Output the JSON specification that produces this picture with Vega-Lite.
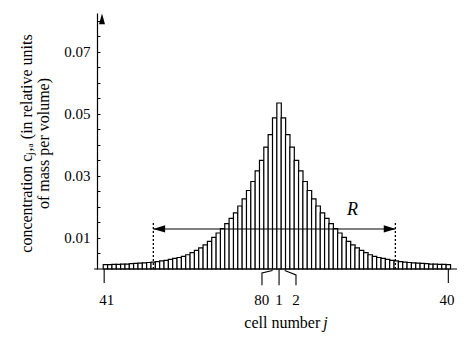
{
  "$schema": "https://vega.github.io/schema/vega-lite/v6.json",
  "width": 365,
  "height": 256,
  "autosize": {"type": "none"},
  "padding": {"left": 97, "top": 13, "right": 12, "bottom": 86},
  "background": "white",
  "config": {"view": {"stroke": null}, "font": "Liberation Serif"},
  "data": {"values": [{"one": 1}]},
  "resolve": {"axis": {"x": "independent", "y": "independent"}},
  "datasets": {
    "cells": [
      {"cell": 41, "order": 0, "c": 0.0014}, {"cell": 42, "order": 1, "c": 0.0014}, {"cell": 43, "order": 2, "c": 0.0015}, {"cell": 44, "order": 3, "c": 0.0015},
      {"cell": 45, "order": 4, "c": 0.0016}, {"cell": 46, "order": 5, "c": 0.0016}, {"cell": 47, "order": 6, "c": 0.0017}, {"cell": 48, "order": 7, "c": 0.0018},
      {"cell": 49, "order": 8, "c": 0.0019}, {"cell": 50, "order": 9, "c": 0.0020}, {"cell": 51, "order": 10, "c": 0.0021}, {"cell": 52, "order": 11, "c": 0.0022},
      {"cell": 53, "order": 12, "c": 0.0024}, {"cell": 54, "order": 13, "c": 0.0026}, {"cell": 55, "order": 14, "c": 0.0028}, {"cell": 56, "order": 15, "c": 0.0031},
      {"cell": 57, "order": 16, "c": 0.0034}, {"cell": 58, "order": 17, "c": 0.0037}, {"cell": 59, "order": 18, "c": 0.0041}, {"cell": 60, "order": 19, "c": 0.0046},
      {"cell": 61, "order": 20, "c": 0.0053}, {"cell": 62, "order": 21, "c": 0.0060}, {"cell": 63, "order": 22, "c": 0.0068}, {"cell": 64, "order": 23, "c": 0.0078},
      {"cell": 65, "order": 24, "c": 0.0089}, {"cell": 66, "order": 25, "c": 0.0102}, {"cell": 67, "order": 26, "c": 0.0116}, {"cell": 68, "order": 27, "c": 0.0130},
      {"cell": 69, "order": 28, "c": 0.0146}, {"cell": 70, "order": 29, "c": 0.0163}, {"cell": 71, "order": 30, "c": 0.0181}, {"cell": 72, "order": 31, "c": 0.0203},
      {"cell": 73, "order": 32, "c": 0.0226}, {"cell": 74, "order": 33, "c": 0.0253}, {"cell": 75, "order": 34, "c": 0.0282}, {"cell": 76, "order": 35, "c": 0.0316},
      {"cell": 77, "order": 36, "c": 0.0350}, {"cell": 78, "order": 37, "c": 0.0393}, {"cell": 79, "order": 38, "c": 0.0433}, {"cell": 80, "order": 39, "c": 0.0487},
      {"cell": 1, "order": 40, "c": 0.0535}, {"cell": 2, "order": 41, "c": 0.0487}, {"cell": 3, "order": 42, "c": 0.0433}, {"cell": 4, "order": 43, "c": 0.0393},
      {"cell": 5, "order": 44, "c": 0.0350}, {"cell": 6, "order": 45, "c": 0.0316}, {"cell": 7, "order": 46, "c": 0.0282}, {"cell": 8, "order": 47, "c": 0.0253},
      {"cell": 9, "order": 48, "c": 0.0226}, {"cell": 10, "order": 49, "c": 0.0203}, {"cell": 11, "order": 50, "c": 0.0181}, {"cell": 12, "order": 51, "c": 0.0163},
      {"cell": 13, "order": 52, "c": 0.0146}, {"cell": 14, "order": 53, "c": 0.0130}, {"cell": 15, "order": 54, "c": 0.0116}, {"cell": 16, "order": 55, "c": 0.0102},
      {"cell": 17, "order": 56, "c": 0.0089}, {"cell": 18, "order": 57, "c": 0.0078}, {"cell": 19, "order": 58, "c": 0.0068}, {"cell": 20, "order": 59, "c": 0.0060},
      {"cell": 21, "order": 60, "c": 0.0053}, {"cell": 22, "order": 61, "c": 0.0046}, {"cell": 23, "order": 62, "c": 0.0041}, {"cell": 24, "order": 63, "c": 0.0037},
      {"cell": 25, "order": 64, "c": 0.0034}, {"cell": 26, "order": 65, "c": 0.0031}, {"cell": 27, "order": 66, "c": 0.0028}, {"cell": 28, "order": 67, "c": 0.0026},
      {"cell": 29, "order": 68, "c": 0.0024}, {"cell": 30, "order": 69, "c": 0.0022}, {"cell": 31, "order": 70, "c": 0.0021}, {"cell": 32, "order": 71, "c": 0.0020},
      {"cell": 33, "order": 72, "c": 0.0019}, {"cell": 34, "order": 73, "c": 0.0018}, {"cell": 35, "order": 74, "c": 0.0017}, {"cell": 36, "order": 75, "c": 0.0016},
      {"cell": 37, "order": 76, "c": 0.0016}, {"cell": 38, "order": 77, "c": 0.0015}, {"cell": 39, "order": 78, "c": 0.0015}, {"cell": 40, "order": 79, "c": 0.0014}
    ],
    "leaders": [
      {"g": "t41", "k": 0, "p": -0.3, "v": 0}, {"g": "t41", "k": 1, "p": -0.3, "v": -0.0045},
      {"g": "t40", "k": 0, "p": 79, "v": 0}, {"g": "t40", "k": 1, "p": 79, "v": -0.0045},
      {"g": "t1", "k": 0, "p": 40, "v": 0}, {"g": "t1", "k": 1, "p": 40, "v": -0.0052},
      {"g": "t80", "k": 0, "p": 38.5, "v": -0.0005}, {"g": "t80", "k": 1, "p": 36.06, "v": -0.0013}, {"g": "t80", "k": 2, "p": 36.06, "v": -0.0052},
      {"g": "t2", "k": 0, "p": 41.3, "v": -0.0005}, {"g": "t2", "k": 1, "p": 43.9, "v": -0.0019}, {"g": "t2", "k": 2, "p": 43.9, "v": -0.0052}
    ],
    "ticklabels": [
      {"label": "41", "p": 0.3}, {"label": "80", "p": 36.0}, {"label": "1", "p": 40}, {"label": "2", "p": 43.9}, {"label": "40", "p": 78.7}
    ],
    "rangeEnds": [
      {"side": "left", "p": 11.03}, {"side": "right", "p": 66.8}
    ]
  },
  "layer": [
    {
      "data": {"name": "cells"},
      "mark": {"type": "bar", "fill": "white", "stroke": "black", "strokeWidth": 1.2, "size": 4.46},
      "encoding": {
        "x": {"field": "order", "type": "quantitative", "scale": {"domain": [-0.8, 81], "nice": false, "zero": false}, "axis": null},
        "y": {
          "field": "c", "type": "quantitative",
          "scale": {"domain": [0, 0.0825], "nice": false},
          "axis": {
            "title": ["concentration cⱼ,ₐ (in relative units", "of mass per volume)"],
            "titleFont": "Liberation Serif", "titleFontSize": 16, "titleFontWeight": "normal", "titleColor": "black",
            "titleLineHeight": 17, "titleX": -71, "titleY": 130, "titleAngle": -90, "titleBaseline": "middle", "titleAlign": "center",
            "values": [0.005, 0.01, 0.015, 0.02, 0.025, 0.03, 0.035, 0.04, 0.045, 0.05, 0.055, 0.06, 0.065, 0.07, 0.075, 0.08],
            "labelExpr": "(abs(datum.value*100 - round(datum.value*100)) < 0.01 && round(datum.value*100) % 2 == 1) ? format(datum.value, '.2f') : ''",
            "labelFont": "Liberation Serif", "labelFontSize": 15, "labelColor": "black", "labelPadding": 10,
            "tickSize": -3, "tickColor": "black", "domainColor": "black", "domainWidth": 1.2, "grid": false
          }
        }
      }
    },
    {
      "mark": {"type": "rule", "stroke": "black", "strokeWidth": 1.2},
      "encoding": {"x": {"datum": -2.6, "type": "quantitative", "axis": null}, "x2": {"datum": 81}, "y": {"datum": 0, "type": "quantitative", "axis": null}}
    },
    {
      "mark": {"type": "point", "shape": "M0,-1.8L1,1.8L-1,1.8Z", "filled": true, "fill": "black", "size": 36, "opacity": 1},
      "encoding": {"x": {"datum": -0.8, "type": "quantitative", "axis": null}, "y": {"datum": 0.0806, "type": "quantitative", "axis": null}}
    },
    {
      "data": {"name": "leaders"},
      "mark": {"type": "line", "stroke": "black", "strokeWidth": 1.1},
      "encoding": {
        "x": {"field": "p", "type": "quantitative", "axis": null},
        "y": {"field": "v", "type": "quantitative", "axis": null},
        "detail": {"field": "g", "type": "nominal"},
        "order": {"field": "k", "type": "quantitative"}
      }
    },
    {
      "data": {"name": "rangeEnds"},
      "mark": {"type": "rule", "stroke": "black", "strokeWidth": 1.3, "strokeDash": [2, 2]},
      "encoding": {
        "x": {"field": "p", "type": "quantitative", "axis": null},
        "y": {"datum": 0, "type": "quantitative", "axis": null},
        "y2": {"datum": 0.0152}
      }
    },
    {
      "mark": {"type": "rule", "stroke": "black", "strokeWidth": 1.1},
      "encoding": {"x": {"datum": 11.03, "type": "quantitative", "axis": null}, "x2": {"datum": 66.8}, "y": {"datum": 0.0129, "type": "quantitative", "axis": null}}
    },
    {
      "mark": {"type": "point", "shape": "M-2,0L2,-1.2L2,1.2Z", "filled": true, "fill": "black", "size": 36, "opacity": 1},
      "encoding": {"x": {"datum": 12.37, "type": "quantitative", "axis": null}, "y": {"datum": 0.0129, "type": "quantitative", "axis": null}}
    },
    {
      "mark": {"type": "point", "shape": "M2,0L-2,-1.2L-2,1.2Z", "filled": true, "fill": "black", "size": 36, "opacity": 1},
      "encoding": {"x": {"datum": 65.5, "type": "quantitative", "axis": null}, "y": {"datum": 0.0129, "type": "quantitative", "axis": null}}
    },
    {
      "mark": {"type": "text", "text": "R", "font": "Liberation Serif", "fontSize": 18, "fontStyle": "italic", "color": "black", "baseline": "middle", "align": "center"},
      "encoding": {"x": {"datum": 56.9, "type": "quantitative", "axis": null}, "y": {"datum": 0.019, "type": "quantitative", "axis": null}}
    },
    {
      "data": {"name": "ticklabels"},
      "mark": {"type": "text", "font": "Liberation Serif", "fontSize": 15, "color": "black", "baseline": "middle", "align": "center"},
      "encoding": {
        "x": {"field": "p", "type": "quantitative", "axis": null},
        "y": {"datum": -0.0100, "type": "quantitative", "axis": null},
        "text": {"field": "label", "type": "nominal"}
      }
    },
    {
      "mark": {"type": "text", "text": "cell number", "font": "Liberation Serif", "fontSize": 16, "color": "black", "baseline": "middle", "align": "right"},
      "encoding": {"x": {"datum": 49.5, "type": "quantitative", "axis": null}, "y": {"datum": -0.0174, "type": "quantitative", "axis": null}}
    },
    {
      "mark": {"type": "text", "text": "j", "font": "Liberation Serif", "fontSize": 16, "fontStyle": "italic", "color": "black", "baseline": "middle", "align": "left"},
      "encoding": {"x": {"datum": 50.2, "type": "quantitative", "axis": null}, "y": {"datum": -0.0174, "type": "quantitative", "axis": null}}
    }
  ]
}
